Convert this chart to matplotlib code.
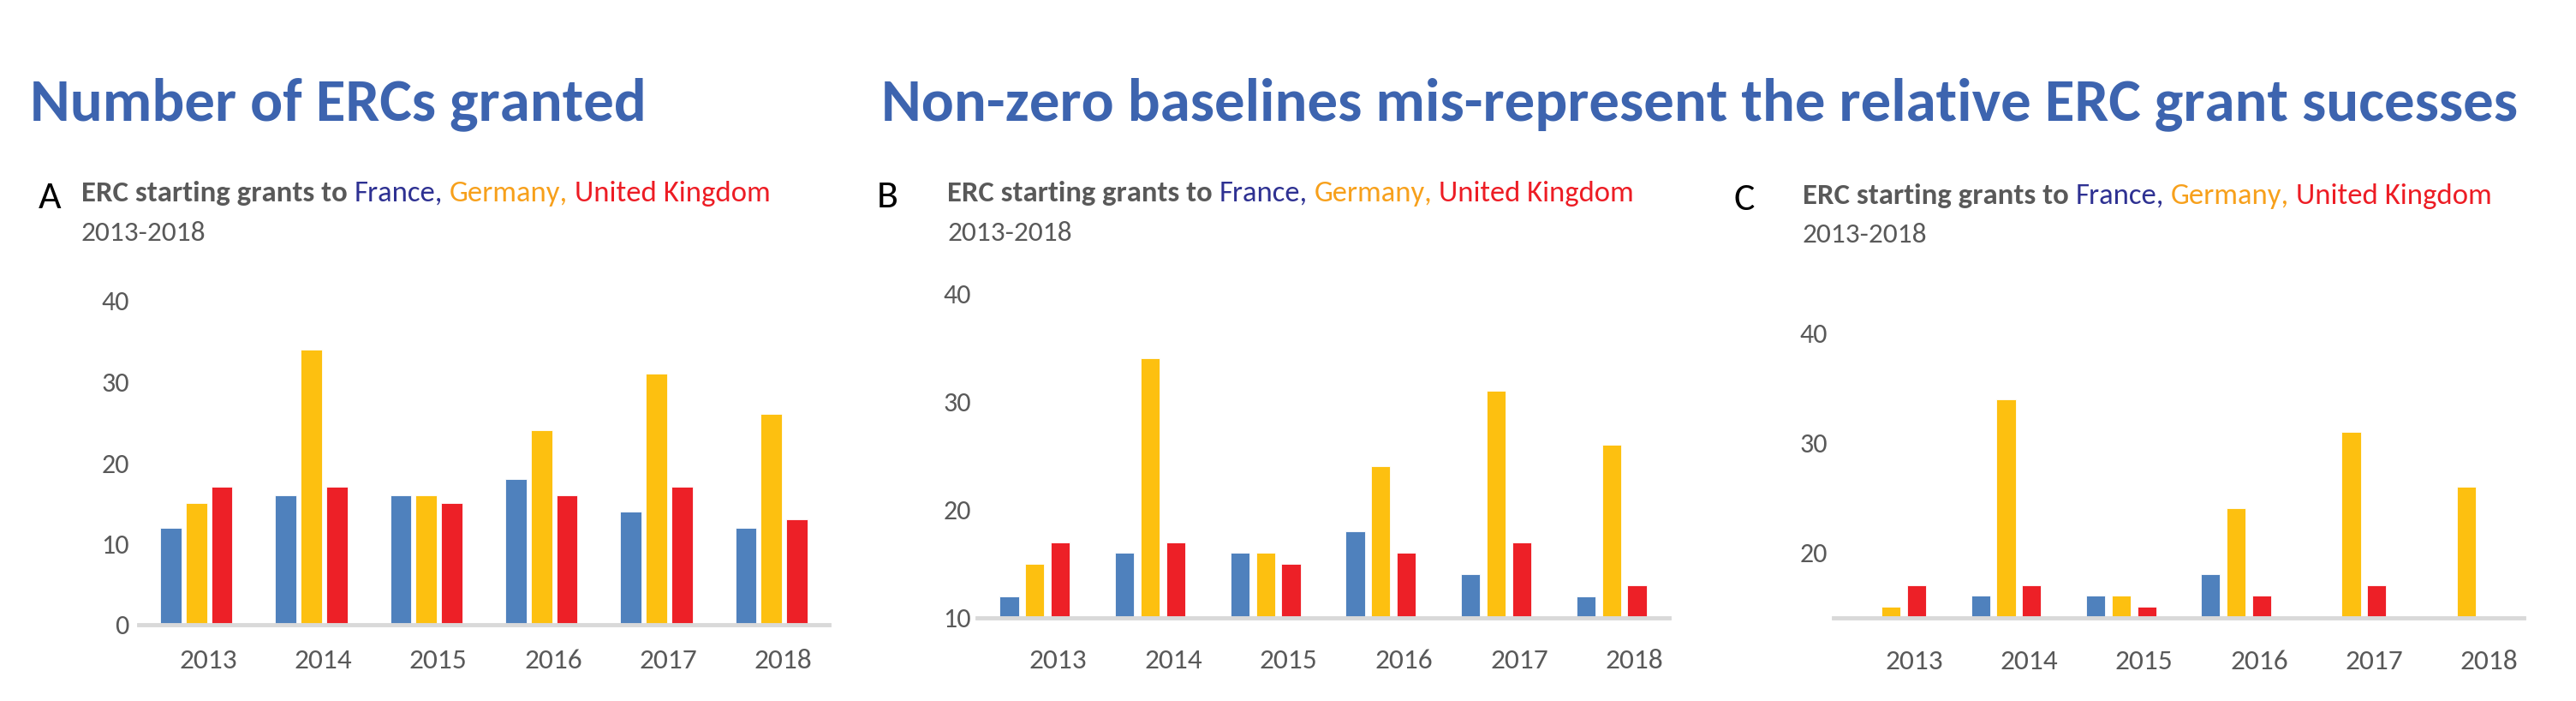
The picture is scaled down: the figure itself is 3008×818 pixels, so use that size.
import numpy as np
import matplotlib
matplotlib.use("Agg")
import matplotlib.pyplot as plt
import matplotlib.transforms as mtransforms

# data
years = ["2013", "2014", "2015", "2016", "2017", "2018"]
france = [12, 16, 16, 18, 14, 12]
germany = [15, 34, 16, 24, 31, 26]
uk = [17, 17, 15, 16, 17, 13]

W, H = 3008, 818
plt.rcParams['font.family'] = ['Carlito', 'Lato', 'DejaVu Sans']

fig = plt.figure(figsize=(W / 100, H / 100), dpi=100)
renderer = fig.canvas.get_renderer()

GRAY = '#595959'
BAR_COLORS = ['#4F81BD', '#FDC010', '#ED2027']


def px(x, y):
    return x / W, 1 - y / H


def fit_text(x, y, s, width, **kw):
    t = fig.text(*px(x, y), s, fontsize=20, va='baseline', ha='left', **kw)
    w = t.get_window_extent(renderer).width
    t.set_fontsize(20 * width / w)
    return t


def subtitle(x, y, y2, width):
    # multi-coloured first line, size chosen so the whole line fits width
    parts = [("ERC starting grants to", GRAY, 'bold'),
             ("France,", '#2E3192', 'normal'),
             ("Germany,", '#F7A01B', 'normal'),
             ("United Kingdom", '#ED1C24', 'normal')]
    fs = 20
    texts = []
    for s, c, w in parts:
        texts.append(fig.text(*px(x, y), s, fontsize=fs, color=c, fontweight=w,
                              va='baseline', ha='left'))
    sp = fig.text(0, 0, "x x", fontsize=fs)
    sp2 = fig.text(0, 0, "xx", fontsize=fs)
    space = sp.get_window_extent(renderer).width - sp2.get_window_extent(renderer).width
    sp.remove()
    sp2.remove()
    total = sum(t.get_window_extent(renderer).width for t in texts) + space * 3
    scale = width / total
    cur = x
    for t in texts:
        t.set_fontsize(fs * scale)
        t.set_position(px(cur, y))
        cur += t.get_window_extent(renderer).width + space * scale
    fig.text(*px(x, y2), "2013-2018", fontsize=24, color=GRAY, va='baseline', ha='left')


def panel(left, right, bottom_px, top_px, ymin, yticks, bar_w, label_dx, label_pad, ypad):
    ax = fig.add_axes([left / W, 1 - bottom_px / H, (right - left) / W, (bottom_px - top_px) / H])
    x = np.arange(len(years))
    for i, (vals, c) in enumerate(zip([france, germany, uk], BAR_COLORS)):
        ax.bar(x + (i - 1) * 0.222, vals, width=bar_w, color=c, edgecolor='white', linewidth=0.6)
    ax.set_xlim(-0.5, len(years) - 0.5)
    ax.set_ylim(ymin, 40)
    ax.set_yticks(yticks)
    ax.set_xticks(x)
    ax.set_xticklabels(years)
    for s in ['top', 'right', 'left']:
        ax.spines[s].set_visible(False)
    ax.spines['bottom'].set_color('#D9D9D9')
    ax.spines['bottom'].set_linewidth(3.5)
    ax.tick_params(axis='y', length=0, pad=ypad, labelsize=23, labelcolor=GRAY)
    ax.tick_params(axis='x', length=0, pad=label_pad, labelsize=24, labelcolor=GRAY)
    off = mtransforms.ScaledTranslation(label_dx / 100, 0, fig.dpi_scale_trans)
    for lab in ax.get_xticklabels():
        lab.set_transform(lab.get_transform() + off)
    ax.set_facecolor('none')
    return ax


TITLE = '#3D64AF'
fit_text(35, 140, "Number of ERCs granted", 720, color=TITLE, fontweight='bold')
fit_text(1029, 140, "Non-zero baselines mis-represent the relative ERC grant sucesses", 1916,
         color=TITLE, fontweight='bold')

fig.text(*px(45, 243), "A", fontsize=33, va='baseline', ha='left')
fig.text(*px(1024, 242), "B", fontsize=33, va='baseline', ha='left')
fig.text(*px(2024, 245), "C", fontsize=33, va='baseline', ha='left')

subtitle(95, 235, 281, 805)
subtitle(1106, 235, 281, 804)
subtitle(2105, 238, 283, 806)

panel(162, 968, 729, 351, 0, [0, 10, 20, 30, 40], 0.185, 14, 20, 8)
panel(1141, 1949, 721, 342, 10, [10, 20, 30, 40], 0.165, 27, 26, 5)
panel(2141, 2947, 721, 389, 14, [20, 30, 40], 0.165, 27, 26.5, 5)

fig.savefig("out.png", dpi=100, facecolor='white')
